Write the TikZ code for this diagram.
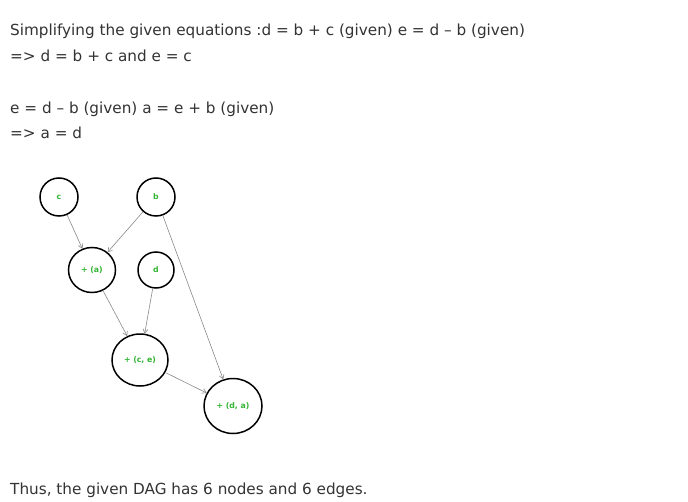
\documentclass[tikz,border=0pt]{standalone}
\usepackage{fontspec}
\setmainfont{DejaVu Sans}
\usetikzlibrary{shapes.geometric,arrows.meta}
\definecolor{txt}{HTML}{333333}
\definecolor{lbl}{HTML}{33B533}
\definecolor{edge}{HTML}{8A8A8A}
\tikzset{
  line/.style={anchor=base west,inner sep=0pt,text=txt,font=\fontsize{15.3}{18}\selectfont},
  vert/.style={draw=black,line width=1.5pt,ellipse,inner sep=0pt,text=lbl,font=\bfseries\fontsize{7.8}{9}\selectfont},
  conn/.style={draw=edge,line width=0.6pt,-{Straight Barb[length=4pt,width=5pt]}}
}
\begin{document}
\begin{tikzpicture}[x=1bp,y=-1bp]
\useasboundingbox[fill=white] (0,0) rectangle (688,502);
\node[line] (t1) at (10,36) {Simplifying the given equations :d = b + c (given) e = d – b (given)};
\node[line] (t2) at (10,62) {=> d = b + c and e = c};
\node[line] (t3) at (10,114) {e = d – b (given) a = e + b (given)};
\node[line] (t4) at (10,139) {=> a = d};
\node[line] (t5) at (10,494) {Thus, the given DAG has 6 nodes and 6 edges.};
\node[vert,minimum width=38bp,minimum height=38bp] (c) at (59,197) {c};
\node[vert,minimum width=38bp,minimum height=38bp] (b) at (156,197) {b};
\node[vert,minimum width=47bp,minimum height=45bp] (a) at (92,270) {+ (a)};
\node[vert,minimum width=36bp,minimum height=36bp] (d) at (156,270) {d};
\node[vert,minimum width=56bp,minimum height=52bp] (ce) at (140,360) {+ (c, e)};
\node[vert,minimum width=58bp,minimum height=55bp] (da) at (233,406) {+ (d, a)};
\draw[conn] (c) -- (a);
\draw[conn] (b) -- (a);
\draw[conn] (a) -- (ce);
\draw[conn] (d) -- (ce);
\draw[conn] (b) -- (da);
\draw[conn] (ce) -- (da);
\end{tikzpicture}
\end{document}
